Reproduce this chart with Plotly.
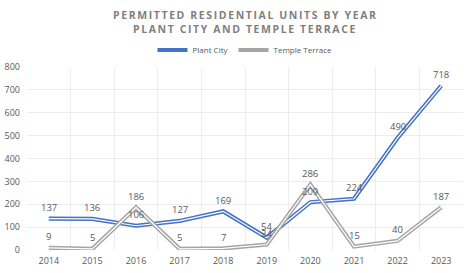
import plotly.graph_objects as go

years = ["2014", "2015", "2016", "2017", "2018", "2019", "2020", "2021", "2022", "2023"]
plant_city = [137, 136, 106, 127, 169, 54, 209, 224, 490, 718]
temple_terrace = [9, 5, 186, 5, 7, 24, 286, 15, 40, 187]
title_lines = ["PERMITTED RESIDENTIAL UNITS BY YEAR", "PLANT CITY AND TEMPLE TERRACE"]

BLUE = "#4472C4"
GRAY = "#A5A5A5"
TXT = "#595959"
FONT = "Open Sans"

fig = go.Figure()

def add_series(name, vals, color):
    fig.add_trace(go.Scatter(
        x=years, y=vals, name=name, mode="lines",
        line=dict(color=color, width=4.2), legendgroup=name,
    ))
    fig.add_trace(go.Scatter(
        x=years, y=vals, name=name, mode="lines",
        line=dict(color="white", width=1.2),
        showlegend=False, hoverinfo="skip", legendgroup=name,
    ))
    for i, v in enumerate(vals):
        fig.add_annotation(
            x=i, y=v, text=str(v), showarrow=False, yshift=11,
            xanchor="center", yanchor="middle",
            font=dict(size=9.5, color=TXT, family=FONT),
        )

add_series("Plant City", plant_city, BLUE)
add_series("Temple Terrace", temple_terrace, GRAY)

for i, line in enumerate(title_lines):
    fig.add_annotation(
        text=f'<span style="letter-spacing:1.6px"><b>{line}</b></span>',
        xref="paper", yref="paper", x=0.5, xanchor="center",
        y=1 + (250 - 15 - 14 * i - 183) / 183, yanchor="middle",
        showarrow=False, font=dict(size=10.5, color="#7F7F7F", family=FONT),
    )

fig.update_layout(
    width=474, height=273,
    margin=dict(l=27, r=11, t=67, b=23, autoexpand=False),
    paper_bgcolor="white", plot_bgcolor="white",
    font=dict(family=FONT, color=TXT, size=9),
    legend=dict(
        orientation="h", x=0.5, xanchor="center", y=(250 - 50) / 183, yanchor="middle",
        font=dict(size=8, color=TXT, family=FONT),
        itemwidth=30, bgcolor="rgba(0,0,0,0)",
    ),
    showlegend=True,
)

fig.update_xaxes(
    type="category", categoryorder="array", categoryarray=years,
    range=[-0.5, len(years) - 0.5],
    tickson="boundaries", ticklen=0, automargin=False,
    showgrid=True, gridcolor="#EDEDED", gridwidth=1,
    showline=False, zeroline=False,
    tickfont=dict(size=9, color=TXT), ticklabelstandoff=4,
)
fig.update_yaxes(
    range=[0, 800], dtick=100, automargin=False,
    showgrid=True, gridcolor="#EDEDED", gridwidth=1,
    zeroline=False, showline=False, ticks="",
    tickfont=dict(size=9, color=TXT), ticklabelstandoff=6,
)

fig.write_html("out.html")
